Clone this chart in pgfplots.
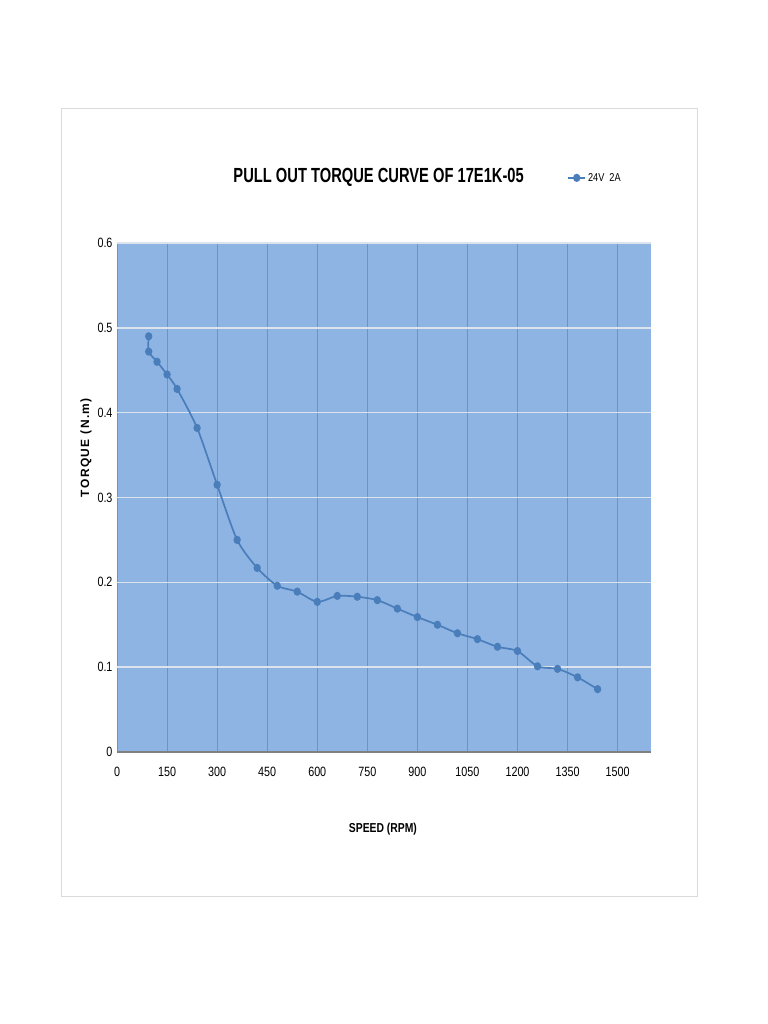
\documentclass[border=0pt]{standalone}
\usepackage{pgfplots}
\pgfplotsset{compat=1.18}
\usepackage{fontspec}
\setmainfont{Liberation Sans}[FakeStretch=0.8]
\newfontfamily\titlefont{Liberation Sans}[FakeStretch=0.72]
\newfontfamily\widefont{Liberation Sans}[LetterSpace=12]

\definecolor{plotbg}{HTML}{8EB4E3}
\definecolor{curve}{HTML}{4A7EBB}
\definecolor{vgrid}{HTML}{7F8FA8}
\definecolor{hgrid}{HTML}{DCE3EC}
\definecolor{frame}{HTML}{DADADA}

\begin{document}
\begin{tikzpicture}[x=1bp,y=1bp]
% page and chart frame
\path[use as bounding box, fill=white] (0,0) rectangle (768,1024);
\draw[frame, line width=1bp] (61,127) rectangle (697,915);

\begin{axis}[
    at={(117bp,272bp)}, anchor=south west,
    scale only axis,
    width=534bp, height=509bp,
    xmin=0, xmax=1600, ymin=0, ymax=0.6,
    xtick={0,150,...,1500},
    ytick={0,0.1,...,0.6},
    axis background/.style={fill=plotbg},
    axis x line*=bottom, axis y line*=left,
    x axis line style={draw=gray, line width=1.5bp, -},
    y axis line style={draw=none},
    major tick length=0pt,
    xmajorgrids, ymajorgrids,
    x grid style={vgrid, line width=1bp},
    y grid style={hgrid, line width=1.4bp},
    /pgf/number format/assume math mode=true,
    /pgf/number format/1000 sep={},
    /pgf/number format/fixed,
    ticklabel style={font=\fontsize{13.5}{15}\selectfont, text=black},
    xticklabel style={yshift=-12bp},
    yticklabel style={xshift=-1bp},
    title={\titlefont\fontsize{20.5}{22}\selectfont\bfseries PULL OUT TORQUE CURVE OF 17E1K-05},
    title style={at={(axis description cs:0.49,1.118)}, anchor=center},
    xlabel={\fontsize{13}{14}\selectfont\bfseries SPEED (RPM)},
    xlabel style={at={(axis description cs:0.498,-0.151)}, anchor=center},
    ylabel={\widefont\fontsize{12}{14}\selectfont\bfseries TORQUE (N.m)},
    ylabel style={at={(axis description cs:-0.058,0.598)}, anchor=center, rotate=0},
    legend style={at={(axis description cs:0.843,1.128)}, anchor=west,
        draw=none, fill=none, font=\fontsize{11.5}{13}\selectfont,
        inner sep=0pt},
    legend cell align=left,
]
\addplot[curve, line width=1.7bp, smooth, tension=0.45,
    mark=*, mark size=2.8bp, mark options={fill=curve, draw=curve, yscale=1.15}]
coordinates {
    (95,0.490) (95,0.472) (120,0.460) (150,0.445) (180,0.428)
    (240,0.382) (300,0.315) (360,0.250) (420,0.217) (480,0.196)
    (540,0.189) (600,0.177) (660,0.184) (720,0.183) (780,0.179)
    (840,0.169) (900,0.159) (960,0.150) (1020,0.140) (1080,0.133)
    (1140,0.124) (1200,0.119) (1260,0.101) (1320,0.098) (1380,0.088)
    (1440,0.074)
};
\legend{24V\ \ 2A}
\end{axis}
\end{tikzpicture}
\end{document}
